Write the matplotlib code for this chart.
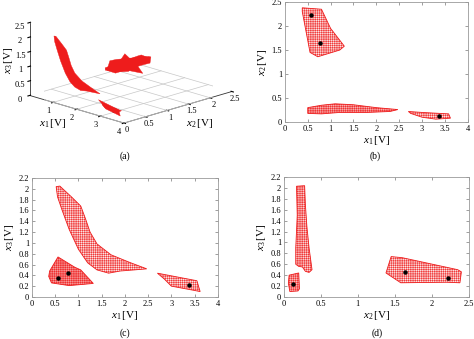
import numpy as np
import matplotlib
matplotlib.use('Agg')
import matplotlib.pyplot as plt
from mpl_toolkits.mplot3d.art3d import Poly3DCollection

plt.rcParams['font.family'] = ['Liberation Serif', 'DejaVu Serif']
plt.rcParams['mathtext.fontset'] = 'custom'
plt.rcParams['mathtext.rm'] = 'Liberation Serif'
plt.rcParams['mathtext.it'] = 'Liberation Serif:italic'
plt.rcParams['hatch.linewidth'] = 0.3
plt.rcParams['xtick.direction'] = 'in'
plt.rcParams['ytick.direction'] = 'in'

# equilibrium points (x1, x2, x3) [V]
pts_x1 = [0.57, 0.77, 3.37]
pts_x2 = [2.22, 1.64, 0.12]
pts_x3 = [0.35, 0.45, 0.23]

# region outlines, x1-x2 plane
b_upper_x1 = [0.38, 0.80, 1.00, 1.30, 1.20, 0.72, 0.55, 0.50, 0.38]
b_upper_x2 = [2.38, 2.35, 1.95, 1.58, 1.50, 1.36, 1.45, 1.70, 2.30]
b_low_x1 = [0.50, 0.50, 0.80, 1.10, 1.50, 2.00, 2.47, 2.30, 1.80, 1.20, 0.80]
b_low_x2 = [0.18, 0.30, 0.35, 0.38, 0.36, 0.30, 0.26, 0.22, 0.20, 0.20, 0.17]
b_right_x1 = [2.70, 3.00, 3.58, 3.62, 3.30, 3.00, 2.75]
b_right_x2 = [0.22, 0.20, 0.17, 0.08, 0.06, 0.10, 0.18]

# region outlines, x1-x3 plane
c_sweep_x1 = [0.52, 0.60, 0.85, 1.05, 1.15, 1.25, 1.40, 1.70, 2.10, 2.47,
              2.20, 1.90, 1.65, 1.40, 1.20, 1.00, 0.80, 0.65, 0.55]
c_sweep_x3 = [2.04, 2.05, 1.85, 1.68, 1.45, 1.20, 0.98, 0.78, 0.64, 0.52,
              0.50, 0.48, 0.44, 0.50, 0.63, 0.88, 1.25, 1.60, 1.85]
c_low_x1 = [0.38, 0.56, 0.92, 1.05, 1.32, 0.80, 0.42, 0.36]
c_low_x3 = [0.48, 0.74, 0.55, 0.50, 0.25, 0.21, 0.26, 0.38]
c_right_x1 = [2.70, 3.55, 3.62, 3.50, 3.00, 2.85]
c_right_x3 = [0.44, 0.30, 0.10, 0.12, 0.20, 0.33]

# region outlines, x2-x3 plane
d_tall_x2 = [0.17, 0.28, 0.29, 0.31, 0.34, 0.38, 0.34, 0.29, 0.25, 0.20, 0.16, 0.16, 0.18]
d_tall_x3 = [2.03, 2.04, 1.70, 1.30, 0.90, 0.50, 0.45, 0.47, 0.55, 0.56, 0.60, 0.90, 1.50]
d_small_x2 = [0.07, 0.20, 0.21, 0.19, 0.08, 0.06]
d_small_x3 = [0.40, 0.44, 0.15, 0.11, 0.10, 0.25]
d_right_x2 = [1.38, 1.45, 1.60, 2.35, 2.40, 2.38, 2.20, 1.58]
d_right_x3 = [0.44, 0.74, 0.72, 0.50, 0.46, 0.26, 0.27, 0.26]

# plane offsets used to place the outlines in 3D
sweep_x2 = 0.28
low_x1 = 0.75
low_x2 = 1.9
low_x3 = 0.45
right_x2 = 0.12
right_x3 = 0.25

RED = '#ee1c1c'
GRID = '#c8c8c8'
SPINE = '#9a9a9a'


def mesh(ax, x, y, solid=0.12):
    ax.fill(x, y, facecolor=RED, alpha=solid, edgecolor='none')
    ax.fill(x, y, facecolor='none', edgecolor=RED, hatch='+' * 9, linewidth=0.6)


def style2d(ax):
    for s in ax.spines.values():
        s.set_color(SPINE)
        s.set_linewidth(0.6)
    ax.tick_params(labelsize=6, length=2, width=0.5, color='#777777',
                   top=True, right=True, pad=2)


fig = plt.figure(figsize=(4.74, 3.39), dpi=100)

# (a) 3D view
ax = fig.add_axes([-0.029, 0.575, 0.6, 0.5], projection='3d')
ax.set_proj_type('ortho')
ax.view_init(elev=17, azim=-45)
ax.set_box_aspect((1.75, 2.0, 1.0), zoom=1.24)
ax.set_xlim(0, 4)
ax.set_ylim(0, 2.5)
ax.set_zlim(0, 2.5)
ax.grid(False)
for a in (ax.xaxis, ax.yaxis, ax.zaxis):
    a.pane.fill = False
    a.pane.set_edgecolor('none')
    a.line.set_color('#333333')
    a.line.set_linewidth(0.6)
ax.zaxis.set_ticks_position('lower')
for v in [0, 1, 2, 3, 4]:
    ax.plot([v, v], [0, 2.5], [0, 0], color=GRID, lw=0.5)
for v in [0, 0.5, 1, 1.5, 2, 2.5]:
    ax.plot([0, 4], [v, v], [0, 0], color=GRID, lw=0.5)

polys = [
    list(zip(c_sweep_x1, [sweep_x2] * len(c_sweep_x1), c_sweep_x3)),
    list(zip([low_x1] * len(d_right_x2), d_right_x2, d_right_x3)),
    list(zip(c_low_x1, [low_x2] * len(c_low_x1), c_low_x3)),
    list(zip(b_upper_x1, b_upper_x2, [low_x3] * len(b_upper_x1))),
    list(zip(c_right_x1, [right_x2] * len(c_right_x1), c_right_x3)),
    list(zip(b_right_x1, b_right_x2, [right_x3] * len(b_right_x1))),
]
ax.add_collection3d(Poly3DCollection(polys, facecolor=RED, edgecolor=RED, linewidth=0.3))
ax.scatter(pts_x1, pts_x2, pts_x3, color='black', s=6, depthshade=False, zorder=10)

ax.set_xticks([1, 2, 3, 4])
ax.set_yticks([0, 0.5, 1, 1.5, 2, 2.5])
ax.set_zticks([0, 0.5, 1, 1.5, 2, 2.5])
ax.set_yticklabels(['0', '0.5', '1', '1.5', '2', '2.5'])
ax.set_zticklabels(['0', '0.5', '1', '1.5', '2', '2.5'])
ax.tick_params(labelsize=6)
ax.xaxis.set_tick_params(pad=-5)
ax.yaxis.set_tick_params(pad=-6)
ax.zaxis.set_tick_params(pad=-5)

# 3D axis labels placed in figure coordinates
fig.text(0.110, 0.637, r'$x_1\,$[V]', fontsize=8, ha='center', va='center')
fig.text(0.422, 0.637, r'$x_2\,$[V]', fontsize=8, ha='center', va='center')
fig.text(0.018, 0.823, r'$x_3\,$[V]', fontsize=8, ha='center', va='center', rotation=90)

# (b) x1-x2
axb = fig.add_axes([0.601, 0.640, 0.386, 0.354])
mesh(axb, b_upper_x1, b_upper_x2)
mesh(axb, b_low_x1, b_low_x2, solid=0.35)
mesh(axb, b_right_x1, b_right_x2)
axb.plot(pts_x1, pts_x2, 'o', color='black', ms=2.2)
axb.set_xlim(0, 4)
axb.set_ylim(0, 2.5)
axb.set_xticks(np.arange(0, 4.01, 0.5))
axb.set_xticklabels(['0', '0.5', '1', '1.5', '2', '2.5', '3', '3.5', '4'])
axb.set_yticks(np.arange(0, 2.51, 0.5))
axb.set_yticklabels(['0', '0.5', '1', '1.5', '2', '2.5'])
axb.set_xlabel(r'$x_1\,$[V]', fontsize=8, labelpad=1)
axb.set_ylabel(r'$x_2\,$[V]', fontsize=8, labelpad=2)
style2d(axb)

# (c) x1-x3
axc = fig.add_axes([0.0675, 0.124, 0.392, 0.351])
mesh(axc, c_sweep_x1, c_sweep_x3)
mesh(axc, c_low_x1, c_low_x3, solid=0.45)
mesh(axc, c_right_x1, c_right_x3)
axc.plot(pts_x1, pts_x3, 'o', color='black', ms=2.2)
axc.set_xlim(0, 4)
axc.set_ylim(0, 2.2)
axc.set_xticks(np.arange(0, 4.01, 0.5))
axc.set_xticklabels(['0', '0.5', '1', '1.5', '2', '2.5', '3', '3.5', '4'])
axc.set_yticks(np.arange(0, 2.21, 0.2))
axc.set_yticklabels(['0', '0.2', '0.4', '0.6', '0.8', '1', '1.2', '1.4', '1.6', '1.8', '2', '2.2'])
axc.set_xlabel(r'$x_1\,$[V]', fontsize=8, labelpad=1)
axc.set_ylabel(r'$x_3\,$[V]', fontsize=8, labelpad=2)
style2d(axc)

# (d) x2-x3
axd = fig.add_axes([0.599, 0.124, 0.390, 0.354])
mesh(axd, d_tall_x2, d_tall_x3, solid=0.2)
mesh(axd, d_small_x2, d_small_x3, solid=0.3)
mesh(axd, d_right_x2, d_right_x3)
axd.plot(pts_x2, pts_x3, 'o', color='black', ms=2.2)
axd.set_xlim(0, 2.5)
axd.set_ylim(0, 2.2)
axd.set_xticks(np.arange(0, 2.51, 0.5))
axd.set_xticklabels(['0', '0.5', '1', '1.5', '2', '2.5'])
axd.set_yticks(np.arange(0, 2.21, 0.2))
axd.set_yticklabels(['0', '0.2', '0.4', '0.6', '0.8', '1', '1.2', '1.4', '1.6', '1.8', '2', '2.2'])
axd.set_xlabel(r'$x_2\,$[V]', fontsize=8, labelpad=1)
axd.set_ylabel(r'$x_3\,$[V]', fontsize=8, labelpad=2)
style2d(axd)

for label, x, y in [('(a)', 0.264, 0.54), ('(b)', 0.791, 0.54),
                    ('(c)', 0.264, 0.018), ('(d)', 0.795, 0.018)]:
    fig.text(x, y, label, fontsize=7, ha='center', va='center')

fig.savefig('out.png', dpi=100)
